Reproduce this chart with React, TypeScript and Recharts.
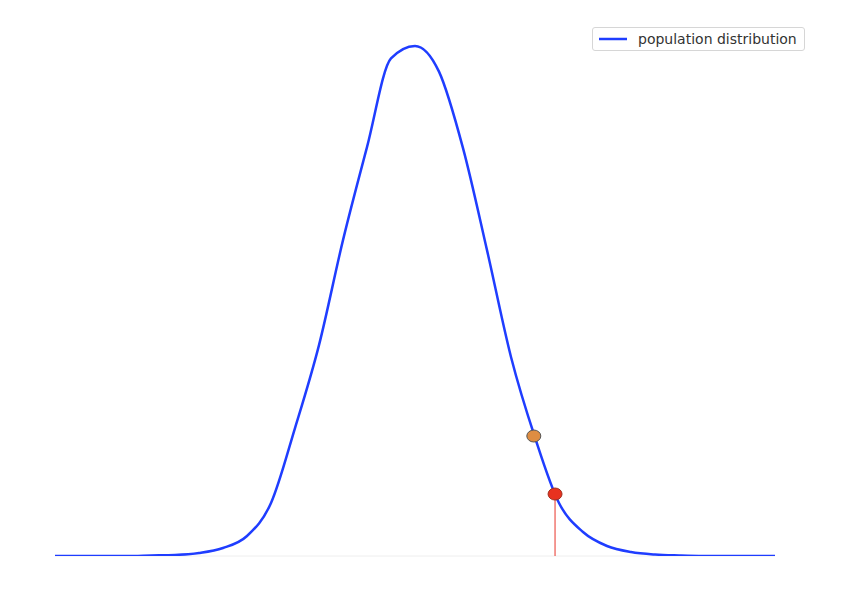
// Population distribution curve with two highlighted sample points
import {
  ComposedChart,
  Line,
  Scatter,
  XAxis,
  YAxis,
  ReferenceLine,
} from "recharts";

const xValues = [
  140, 142, 144, 146, 148, 150, 152, 154, 156, 158, 160, 162, 164, 166, 168, 170,
  172, 174, 176, 178, 180, 182, 184, 186, 188, 190, 192, 194, 196, 198, 200,
];
const densityValues = [
  0, 0, 0, 0, 0.00007, 0.00014, 0.00041, 0.00109, 0.00272, 0.0072, 0.01738, 0.02865,
  0.04291, 0.05554, 0.0676, 0.0693, 0.0658, 0.05541, 0.04155, 0.02704, 0.0161,
  0.0072, 0.00326, 0.00136, 0.00054, 0.0002, 0.00007, 0, 0, 0, 0,
];

const orangePoint = [{ x: 179.9, y: 0.0163 }];
const redPoint = [{ x: 181.67, y: 0.00842 }];

const curve = xValues.map((x, i) => ({ x, density: densityValues[i] }));

function Dot(props: any) {
  const { cx, cy, fill, stroke } = props;
  return <ellipse cx={cx} cy={cy} rx={7} ry={6} fill={fill} stroke={stroke} strokeWidth={1} />;
}

function LegendBox() {
  return (
    <div
      style={{
        position: "absolute",
        left: 592,
        top: 27,
        height: 24,
        boxSizing: "border-box",
        display: "flex",
        alignItems: "center",
        border: "1px solid #d6d6d6",
        borderRadius: 3,
        background: "#fff",
        padding: "0 7px 0 6px",
        fontFamily: "'DejaVu Sans', sans-serif",
        fontSize: 14,
        color: "#333",
      }}
    >
      <svg width={28} height={10} style={{ marginRight: 11 }}>
        <line x1={0} y1={5} x2={28} y2={5} stroke="#1f3dff" strokeWidth={2.5} />
      </svg>
      population distribution
    </div>
  );
}

export default function App() {
  return (
    <div style={{ position: "absolute", left: 0, top: 0, width: 850, height: 589, background: "#fff" }}>
      <ComposedChart
        width={850}
        height={589}
        data={curve}
        margin={{ top: 26, right: 75, bottom: 33, left: 55 }}
      >
        <XAxis dataKey="x" type="number" domain={[140, 200]} hide />
        <YAxis type="number" domain={[0, 0.072]} hide allowDataOverflow />
        <ReferenceLine y={0} stroke="#eeeeee" strokeWidth={1} />
        <Line
          type="monotone"
          dataKey="density"
          stroke="#1f3dff"
          strokeWidth={2.5}
          dot={false}
          isAnimationActive={false}
        />
        <ReferenceLine
          segment={[
            { x: redPoint[0].x, y: 0 },
            { x: redPoint[0].x, y: redPoint[0].y },
          ]}
          stroke="#e8342a"
          strokeWidth={1}
        />
        <Scatter
          data={orangePoint}
          dataKey="y"
          fill="#de8d42"
          stroke="#555555"
          shape={<Dot />}
          isAnimationActive={false}
        />
        <Scatter
          data={redPoint}
          dataKey="y"
          fill="#e8321f"
          stroke="#a03020"
          shape={<Dot />}
          isAnimationActive={false}
        />
      </ComposedChart>
      <LegendBox />
    </div>
  );
}
